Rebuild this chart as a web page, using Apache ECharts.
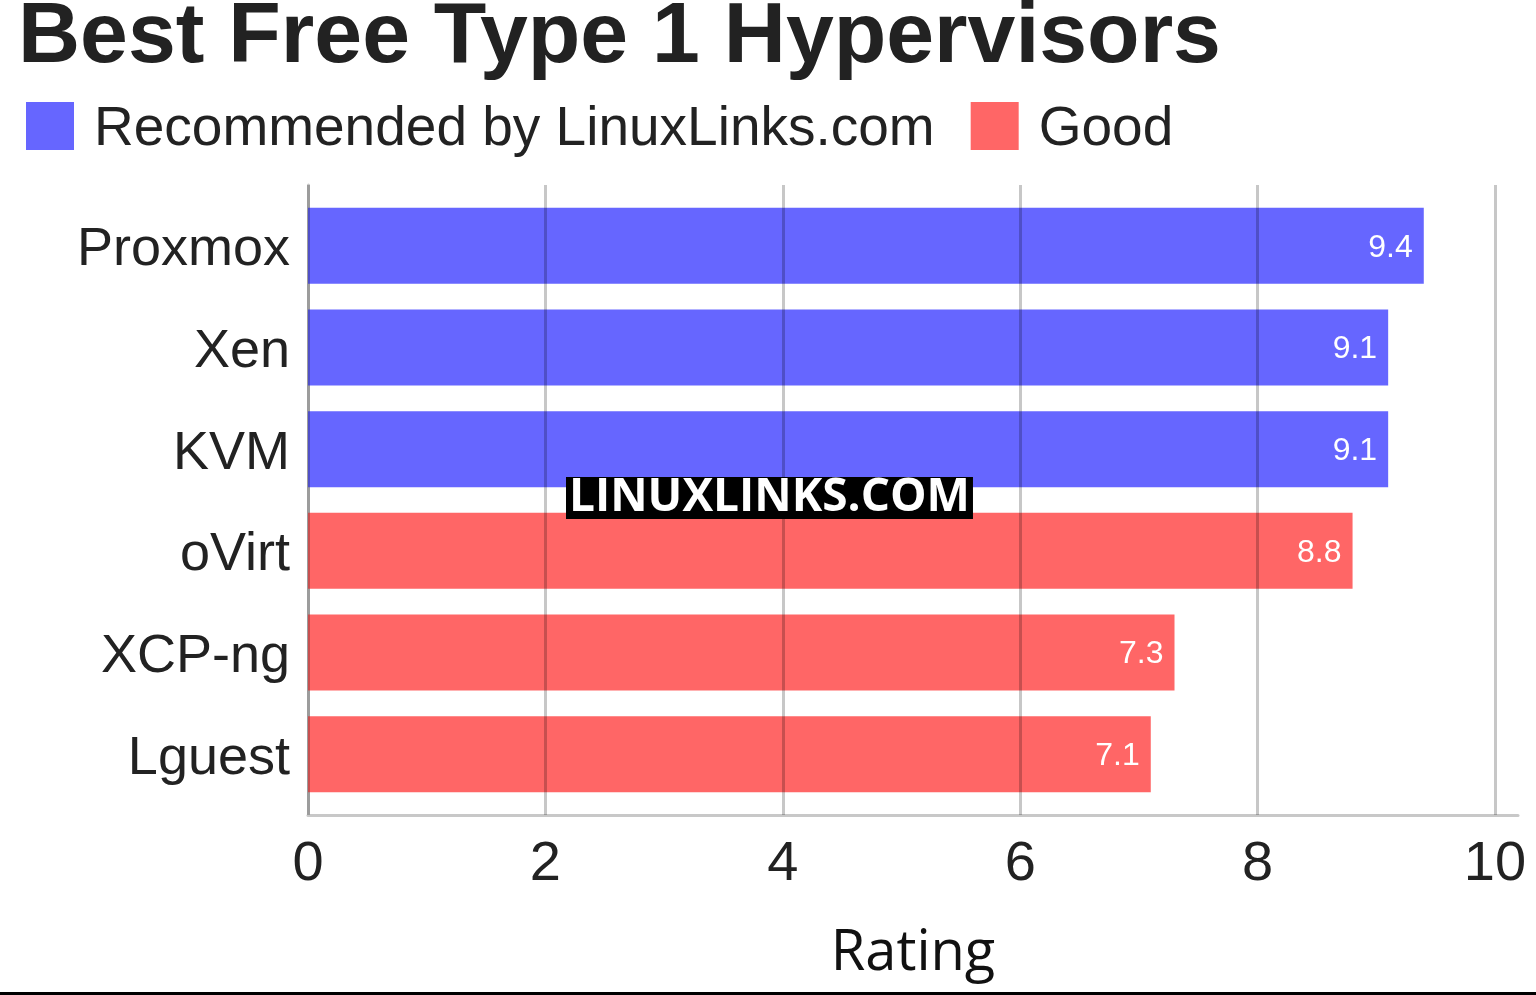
<!DOCTYPE html>
<html><head><meta charset="utf-8">
<script src="https://cdn.jsdelivr.net/npm/echarts@6/dist/echarts.min.js"></script>
<style>html,body{margin:0;padding:0;background:#fff;}#c{width:1536px;height:995px;}</style>
</head><body><div id="c"></div>
<script>
const categories = ['Proxmox', 'Xen', 'KVM', 'oVirt', 'XCP-ng', 'Lguest'];
const recommended = [9.4, 9.1, 9.1, '-', '-', '-'];
const good = ['-', '-', '-', 8.8, 7.3, 7.1];
const xTicks = [0, 2, 4, 6, 8, 10];
const seriesNames = ['Recommended by LinuxLinks.com', 'Good'];

const chart = echarts.init(document.getElementById('c'));
const txt = '#222';
const font = '"Liberation Sans", Arial, sans-serif';
const labelCfg = { show: true, position: 'insideRight', distance: 11, offset: [0, 2], color: '#fff', fontSize: 32, fontFamily: font };
chart.setOption({
  animation: false,
  title: { text: 'Best Free Type 1 Hypervisors', left: 13, top: -10,
    textStyle: { fontSize: 86, fontWeight: 'bold', color: txt, fontFamily: font } },
  legend: { left: 21, top: 97, itemWidth: 48, itemHeight: 48, itemGap: 36, icon: 'rect',
    data: seriesNames,
    formatter: n => '{a|' + n + '}',
    textStyle: { fontSize: 55, color: txt, fontFamily: font, padding: [0, 0, 0, 15],
      rich: { a: { fontSize: 55, color: txt, fontFamily: font, padding: [8, 0, 0, 0] } } } },
  grid: [
    { left: 308, right: 18, top: 185, bottom: 180 },
    { left: 308, right: 41, top: 195, bottom: 190 },
    { left: 308, right: 41, top: 185, bottom: 180 }
  ],
  xAxis: [
    { gridIndex: 0, type: 'value', min: 0, max: 1, axisLabel: { show: false }, axisTick: { show: false },
      splitLine: { show: false }, axisLine: { show: true, lineStyle: { color: '#c8c8c8', width: 3 } },
      name: 'Rating', nameLocation: 'middle', nameGap: 111,
      nameTextStyle: { fontSize: 56, color: '#111', fontFamily: '"Open Sans", sans-serif' } },
    { gridIndex: 1, type: 'value', min: xTicks[0], max: xTicks[xTicks.length - 1], interval: 2, show: false },
    { gridIndex: 2, type: 'value', min: xTicks[0], max: xTicks[xTicks.length - 1], interval: 2, z: 3,
      axisLine: { show: false }, axisTick: { show: false },
      axisLabel: { fontSize: 56, color: txt, fontFamily: font, margin: 22 },
      splitLine: { show: true, lineStyle: { color: 'rgba(0,0,0,0.22)', width: 3 } } }
  ],
  yAxis: [
    { gridIndex: 0, type: 'value', min: 0, max: 1, axisLabel: { show: false }, axisTick: { show: false },
      splitLine: { show: false }, axisLine: { show: true, lineStyle: { color: '#c8c8c8', width: 3 } } },
    { gridIndex: 1, type: 'category', data: categories, inverse: true,
      axisLine: { show: false }, axisTick: { show: false },
      axisLabel: { margin: 18, formatter: v => '{a|' + v + '}',
        rich: { a: { fontSize: 54, color: txt, fontFamily: font, padding: [9, 0, 0, 0] } } } },
    { gridIndex: 2, type: 'value', show: false }
  ],
  series: [
    { name: seriesNames[0], type: 'bar', xAxisIndex: 1, yAxisIndex: 1, stack: 's', barWidth: 76,
      itemStyle: { color: '#6666ff' }, label: labelCfg, data: recommended },
    { name: seriesNames[1], type: 'bar', xAxisIndex: 1, yAxisIndex: 1, stack: 's', barWidth: 76,
      itemStyle: { color: '#ff6666' }, label: labelCfg, data: good }
  ],
  graphic: [
    { type: 'text', left: 566, top: 475, z: 100,
      style: { text: 'LINUXLINKS.COM', fill: '#fff', font: 'bold 46px "Open Sans", sans-serif',
        lineHeight: 42, backgroundColor: '#000', padding: [0, 3, 0, 3] } },
    { type: 'line', z: 100, shape: { x1: 0, y1: 993.5, x2: 1536, y2: 993.5 },
      style: { stroke: '#000', lineWidth: 3 } }
  ]
});
</script></body></html>
